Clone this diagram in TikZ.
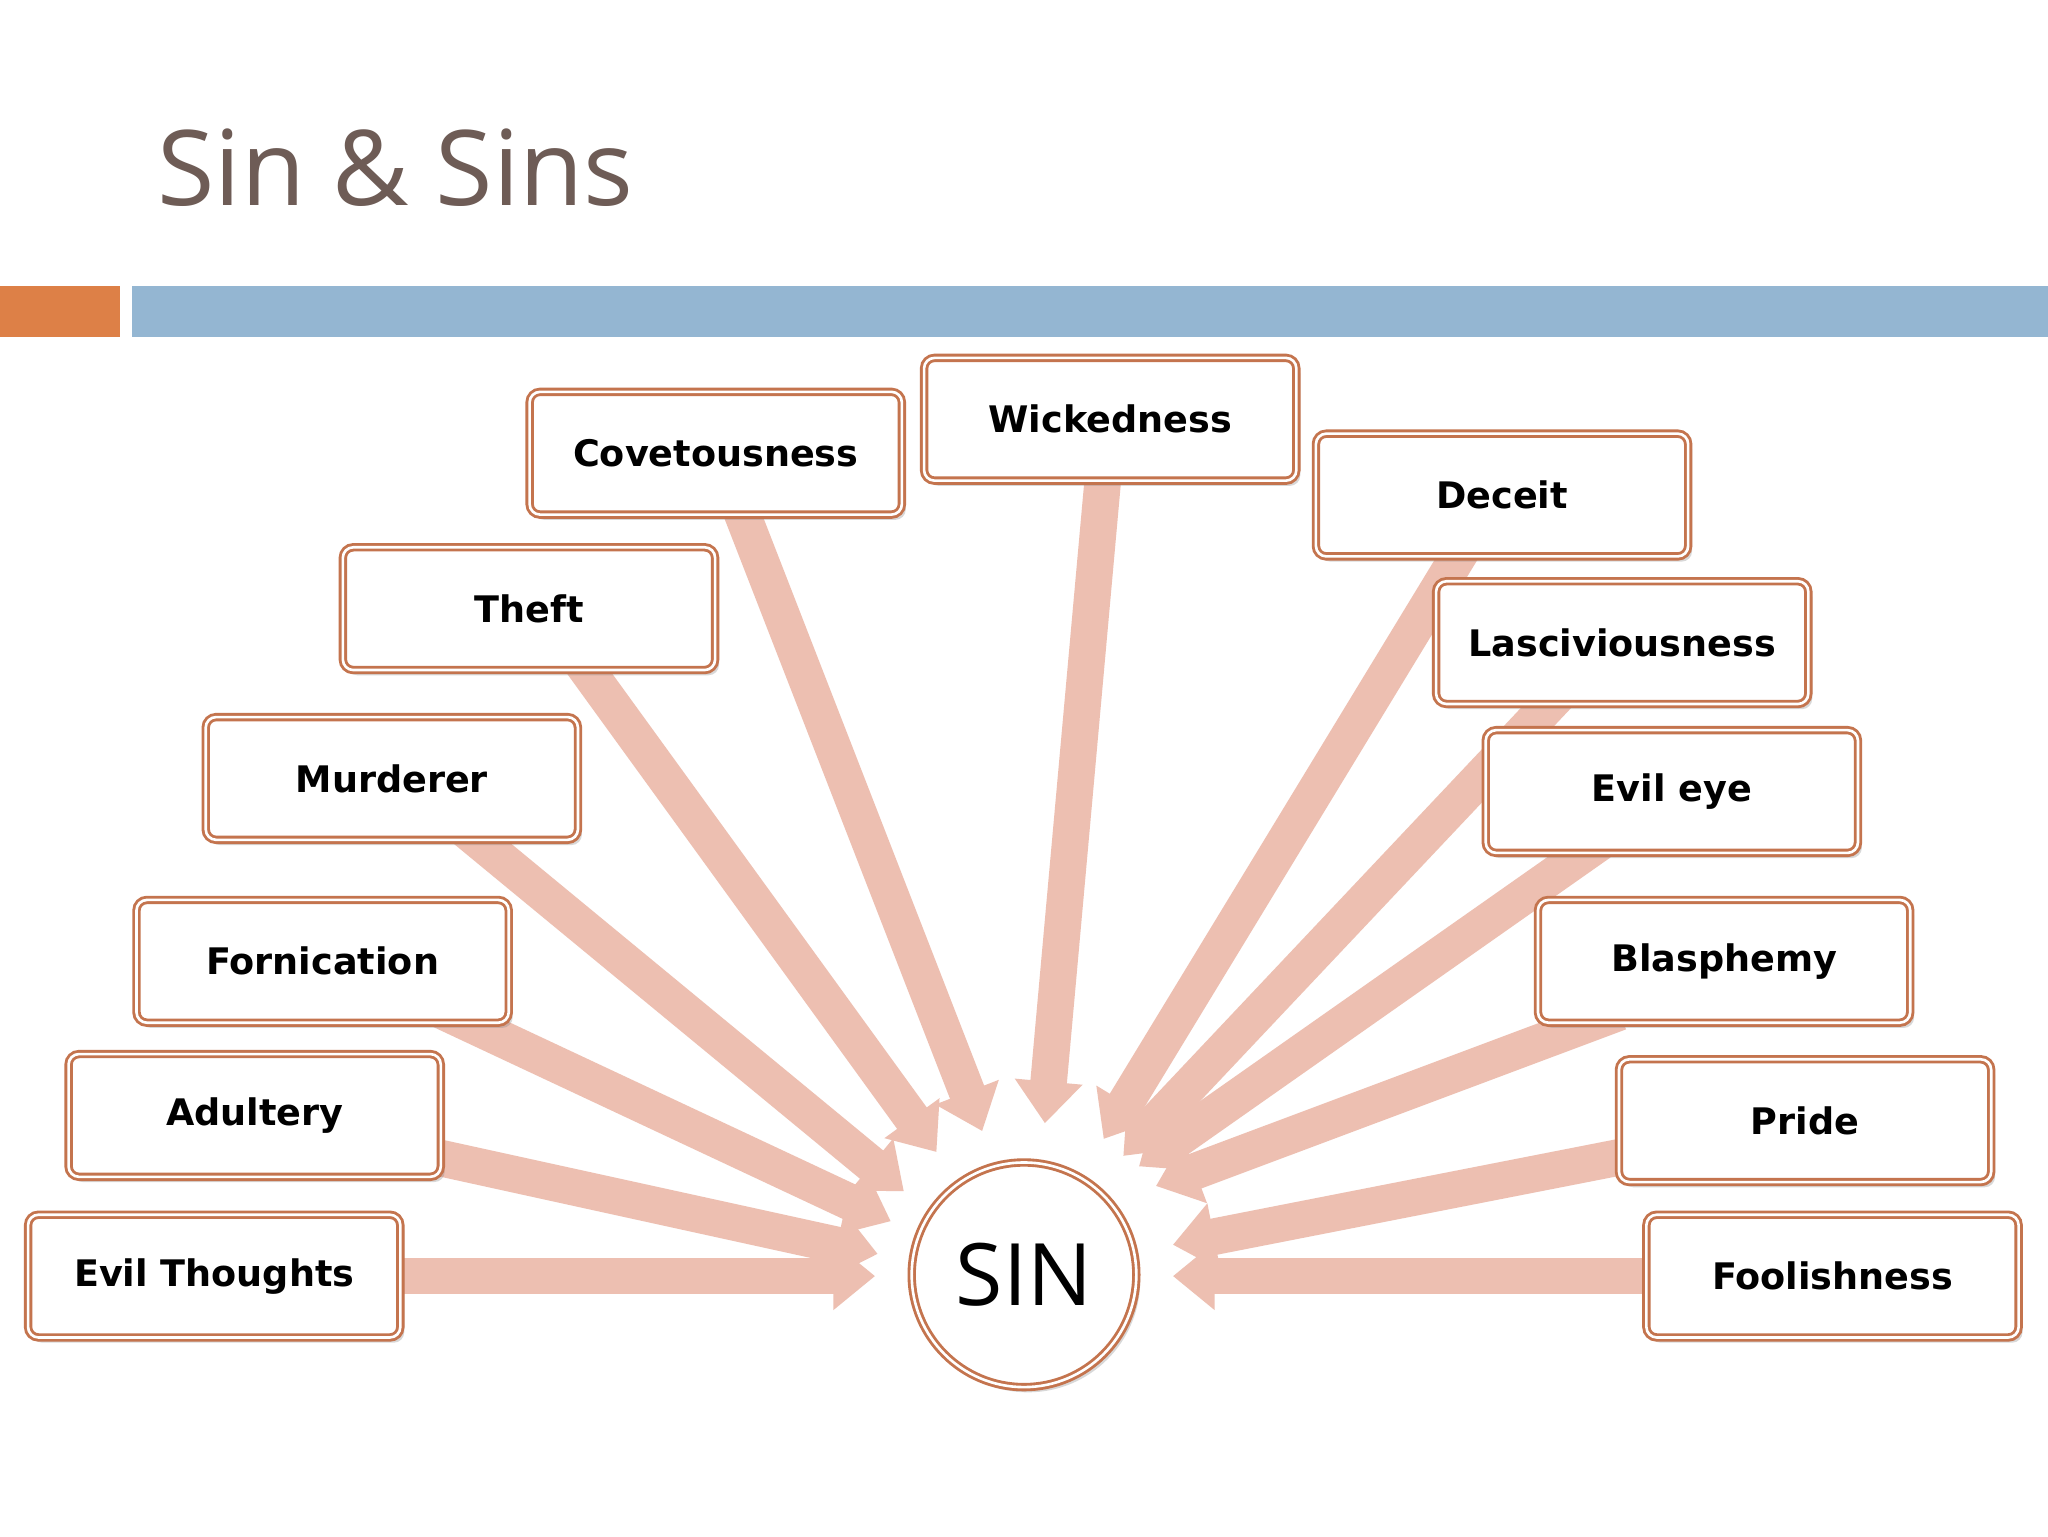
\documentclass[tikz,border=0pt]{standalone}
\usepackage{fontspec}
\setmainfont{DejaVu Sans}
\newfontfamily\titlefont{Open Sans}
\usetikzlibrary{arrows.meta,shadows}
\definecolor{boxc}{HTML}{C4744E}
\definecolor{arr}{HTML}{EDBFB1}
\definecolor{orng}{HTML}{DD8047}
\definecolor{blu}{HTML}{94B6D2}
\definecolor{ttl}{HTML}{6E5C56}
\begin{document}
\begin{tikzpicture}[x=1pt,y=-1pt,
  box/.style={draw=boxc,line width=2.2pt,double=white,double distance=2pt,fill=white,rounded corners=8pt,
    minimum width=285pt,minimum height=94pt,font=\fontsize{28}{30}\selectfont\bfseries,
    drop shadow={shadow xshift=3pt,shadow yshift=-4pt,opacity=0.3}},
  ar/.style={draw=arr,line width=28pt,-{Triangle[width=50pt,length=32pt]}}]
\useasboundingbox (0,0) rectangle (1568,1176);
\fill[white] (0,0) rectangle (1568,1176);
\node[anchor=west,text=ttl,font=\titlefont\fontsize{80}{82}\selectfont] (title) at (117,128) {Sin \& Sins};
\fill[orng] (0,219) rectangle (92,258);
\fill[blu] (101,219) rectangle (1568,258);
% arrow targets
\coordinate (tET) at (670,977);
\coordinate (tAd) at (672,960);
\coordinate (tFo) at (682,935);
\coordinate (tMu) at (692,912);
\coordinate (tTh) at (717,882);
\coordinate (tCo) at (752,866);
\coordinate (tWi) at (800,860);
\coordinate (tDe) at (845,872);
\coordinate (tLa) at (860,885);
\coordinate (tEe) at (872,893);
\coordinate (tBl) at (885,908);
\coordinate (tPr) at (898,953);
\coordinate (tFl) at (898,977);
\coordinate (sET) at (300,977);
\coordinate (sAd) at (330,885);
\coordinate (sFo) at (330,770);
\coordinate (sMu) at (350,630);
\coordinate (sTh) at (440,500);
\coordinate (sCo) at (565,385);
\coordinate (sWi) at (845,360);
\coordinate (sDe) at (1120,420);
\coordinate (sLa) at (1195,530);
\coordinate (sEe) at (1225,645);
\coordinate (sBl) at (1240,775);
\coordinate (sPr) at (1245,885);
\coordinate (sFl) at (1265,977);
\foreach \n in {ET,Ad,Fo,Mu,Th,Co,Wi,De,La,Ee,Bl,Pr,Fl}{\draw[ar] (s\n) -- (t\n);}
\node[box] (co) at (548,347) {Covetousness};
\node[box] (wi) at (850,321) {Wickedness};
\node[box] (de) at (1150,379) {Deceit};
\node[box] (th) at (405,466) {Theft};
\node[box] (la) at (1242,492) {Lasciviousness};
\node[box] (mu) at (300,596) {Murderer};
\node[box] (ee) at (1280,606) {Evil eye};
\node[box] (fo) at (247,736) {Fornication};
\node[box] (bl) at (1320,736) {Blasphemy};
\node[box] (ad) at (195,854) {Adultery};
\node[box] (pr) at (1382,858) {Pride};
\node[box] (et) at (164,977) {Evil Thoughts};
\node[box] (fl) at (1403,977) {Foolishness};
\node[circle,draw=boxc,line width=2.2pt,double=white,double distance=2pt,fill=white,minimum size=172pt,
  font=\titlefont\fontsize{66}{68}\selectfont,drop shadow={shadow xshift=3pt,shadow yshift=-4pt,opacity=0.3}] (sin) at (784,976) {SIN};
\end{tikzpicture}
\end{document}
